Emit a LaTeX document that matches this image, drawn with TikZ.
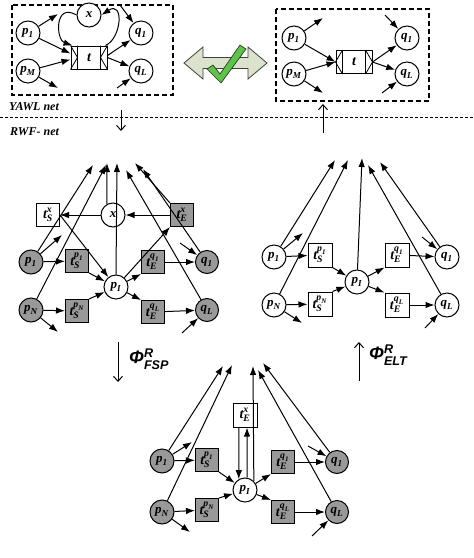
\documentclass[tikz,border=0pt]{standalone}
\usepackage{amsmath}
\usepackage{fontspec}
\setmainfont{Liberation Serif}
\newfontfamily\phifont{Liberation Sans}
\usetikzlibrary{arrows.meta}
\definecolor{pg}{gray}{0.6}
\definecolor{dblfill}{HTML}{DCE3CC}
\definecolor{chkgreen}{HTML}{5CC545}
\newcommand{\plfont}{\fontsize{13}{13}\selectfont\bfseries\itshape}
\newcommand{\trfont}{\fontsize{14}{14}\selectfont\bfseries\itshape}
\newcommand{\PL}[2]{$\textit{#1}_{\textit{#2}}$}
\newcommand{\TR}[3]{$\textit{#1}^{#2}_{\textit{#3}}$}
\begin{document}
\begin{tikzpicture}[x=1pt,y=-1pt,
  place/.style={circle,draw,line width=1pt,minimum size=24pt,inner sep=0pt,fill=white,font=\plfont},
  gplace/.style={place,fill=pg},
  trans/.style={rectangle,draw,line width=1pt,minimum size=23pt,inner sep=0pt,fill=white,font=\trfont},
  gtrans/.style={trans,fill=pg},
  ytask/.style={rectangle,draw,line width=1pt,minimum width=36pt,minimum height=23pt,inner sep=0pt,fill=white,font=\trfont},
  arr/.style={-{Latex[length=9pt,width=6.5pt]},line width=1pt},
  barb/.style={-{Straight Barb[length=5pt,width=9pt]},line width=1pt},
  dbox/.style={draw,line width=1.2pt,dash pattern=on 5pt off 3pt},
  lbl/.style={font=\fontsize{12}{12}\selectfont\bfseries\itshape,inner sep=0pt}]
\useasboundingbox (0,0) rectangle (474,558);

% ---------- top-left YAWL net ----------
\draw[dbox] (12,5) rectangle (173,95);
\node[place] (a1) at (28,33) {\PL{p}{1}};
\node[place] (aM) at (28,71) {\PL{p}{M}};
\node[place] (ax) at (89,15) {\textit{x}};
\node[ytask] (at) at (89,57.5) {\textit{t}};
\node[place] (aq1) at (141,33) {\PL{q}{1}};
\node[place] (aqL) at (141,71) {\PL{q}{L}};
\draw[line width=0.8pt] ([xshift=7pt]at.north west) -- ([xshift=7pt]at.south west)
  (at.north west) -- ([xshift=7pt]at.west) -- (at.south west)
  ([xshift=-7pt]at.north east) -- ([xshift=-7pt]at.south east)
  (at.north east) -- ([xshift=-7pt]at.east) -- (at.south east);
\coordinate (a1o) at (58,14);
\coordinate (aMo) at (58,88);
\coordinate (aq1i) at (120,5);
\coordinate (aqLi) at (117,88);
\draw[arr] (a1) -- (a1o);
\draw[arr] (aM) -- (aMo);
\draw[arr] (a1) -- ([yshift=4pt]at.west);
\draw[arr] (aM) -- ([yshift=-2pt]at.west);
\draw[arr] (ax.west) .. controls (54,2) and (56,40) .. ([xshift=2pt]at.north west);
\draw[arr] ([xshift=-2pt]at.north east) .. controls (122,38) and (124,0) .. (ax.east);
\draw[arr] ([yshift=2pt]at.east) -- (aq1);
\draw[arr] (at.east) -- (aqL);
\draw[arr] (aq1i) -- (aq1);
\draw[arr] (aqLi) -- (aqL);

% ---------- top-right YAWL net ----------
\draw[dbox] (276,9) rectangle (429,101);
\node[place] (b1) at (294,38) {\PL{p}{1}};
\node[place] (bM) at (294,74) {\PL{p}{M}};
\node[ytask] (bt) at (354,62) {\textit{t}};
\node[place] (bq1) at (407,38) {\PL{q}{1}};
\node[place] (bqL) at (407,74) {\PL{q}{L}};
\draw[line width=0.8pt] ([xshift=7pt]bt.north west) -- ([xshift=7pt]bt.south west)
  ([xshift=7pt]bt.north west) -- (bt.west) -- ([xshift=7pt]bt.south west)
  ([xshift=-7pt]bt.north east) -- ([xshift=-7pt]bt.south east)
  ([xshift=-7pt]bt.north east) -- (bt.east) -- ([xshift=-7pt]bt.south east);
\coordinate (b1o) at (323,18);
\coordinate (bMo) at (323,93);
\coordinate (bq1i) at (385,15);
\coordinate (bqLi) at (382,93);
\draw[arr] (b1) -- (b1o);
\draw[arr] (bM) -- (bMo);
\draw[arr] (b1) -- (bt.west);
\draw[arr] (bM) -- (bt.west);
\draw[arr] (bt.east) -- (bq1);
\draw[arr] (bt.east) -- (bqL);
\draw[arr] (bq1i) -- (bq1);
\draw[arr] (bqLi) -- (bqL);

% ---------- double arrow with check ----------
\draw[line width=0.8pt,draw=black!75,fill=dblfill] (184,63) -- (203,47) -- (203,57.5) -- (248,57.5) -- (248,47) -- (267,63) -- (248,79) -- (248,68.5) -- (203,68.5) -- (203,79) -- cycle;
\draw[line width=0.7pt,draw=black!80,fill=chkgreen] (207,69) -- (213,65) -- (220,74) -- (240,45) -- (246,49) -- (221,83) -- cycle;

% ---------- separator ----------
\node[lbl,anchor=west] (yawl) at (9,107) {YAWL net};
\node[lbl,anchor=west] (rwf) at (10,132) {RWF- net};
\coordinate (sepL) at (0,117);
\coordinate (sepR) at (474,117);
\draw[line width=1pt,dash pattern=on 3pt off 2pt] (sepL) -- (sepR);
\coordinate (dnA) at (121,110);
\coordinate (dnB) at (121,131);
\coordinate (upA) at (323,133);
\coordinate (upB) at (323,104);
\draw[barb] (dnA) -- (dnB);
\draw[barb] (upA) -- (upB);

% ---------- middle-left RWF-net ----------
\node[gplace] (c1) at (31,262) {\PL{p}{1}};
\node[gplace] (cN) at (31,310) {\PL{p}{N}};
\node[trans] (cSx) at (48,215) {\TR{t}{\textit{x}}{S}};
\node[place] (cx) at (113,215) {\textit{x}};
\node[gtrans] (cEx) at (182,215) {\TR{t}{\textit{x}}{E}};
\node[gtrans] (cS1) at (77,261) {\TR{t}{\textit{p}_{\textit{1}}}{S}};
\node[gtrans] (cSN) at (77,311) {\TR{t}{\textit{p}_{\textit{N}}}{S}};
\node[place] (cI) at (116,287) {\PL{p}{I}};
\node[gtrans] (cE1) at (153,262) {\TR{t}{\textit{q}_{\textit{1}}}{E}};
\node[gtrans] (cEL) at (153,312) {\TR{t}{\textit{q}_{\textit{L}}}{E}};
\node[gplace,minimum size=23pt] (cq1) at (207,262) {\PL{q}{1}};
\node[gplace,minimum size=23pt] (cqL) at (207,310) {\PL{q}{L}};
\coordinate (cu1) at (93,165);
\coordinate (cu2) at (106,165);
\coordinate (cu3) at (107,163);
\coordinate (cu4) at (117,163);
\coordinate (cu5) at (135,163);
\coordinate (cu6) at (143,169);
\coordinate (cu7) at (126,170);
\coordinate (c1o) at (62,235);
\coordinate (cNo) at (58,332);
\coordinate (cq1i) at (180,243);
\coordinate (cqLi) at (182,333);
\draw[arr] (c1) -- (cu1);
\draw[arr] (cN) -- (cu2);
\draw[arr] (cx.120) -- (cu3);
\draw[arr] (cI.north) -- (cu4);
\draw[arr] (cEx.north west) -- (cu5);
\draw[arr] (cq1) -- (cu6);
\draw[arr] (cqL) -- (cu7);
\draw[arr] (c1) -- (c1o);
\draw[arr] (cN) -- (cNo);
\draw[arr] (cx) -- (cSx);
\draw[arr] (cEx) -- (cx);
\draw[arr] (cSx.east) -- (cI);
\draw[arr] (cI) -- (cEx.south west);
\draw[arr] (c1) -- (cS1);
\draw[arr] (cN) -- (cSN);
\draw[arr] (cS1.south east) -- (cI);
\draw[arr] (cSN.north east) -- (cI);
\draw[arr] (cI) -- (cE1.south west);
\draw[arr] (cI) -- (cEL.north west);
\draw[arr] (cE1) -- (cq1);
\draw[arr] (cEL) -- (cqL);
\draw[arr] (cq1i) -- (cq1);
\draw[arr] (cqLi) -- (cqL);

% ---------- middle-right RWF-net ----------
\node[place] (d1) at (274,257) {\PL{p}{1}};
\node[place] (dN) at (274,305) {\PL{p}{N}};
\node[trans,minimum size=24pt] (dS1) at (320,255) {\TR{t}{\textit{p}_{\textit{1}}}{S}};
\node[trans,minimum size=24pt] (dSN) at (320,304) {\TR{t}{\textit{p}_{\textit{N}}}{S}};
\node[place] (dI) at (357,282) {\PL{p}{I}};
\node[trans,minimum size=24pt] (dE1) at (397,255) {\TR{t}{\textit{q}_{\textit{1}}}{E}};
\node[trans,minimum size=24pt] (dEL) at (397,305) {\TR{t}{\textit{q}_{\textit{L}}}{E}};
\node[place] (dq1) at (447,257) {\PL{q}{1}};
\node[place] (dqL) at (447,305) {\PL{q}{L}};
\coordinate (du1) at (335,160);
\coordinate (du2) at (348,160);
\coordinate (du3) at (362,158);
\coordinate (du4) at (368,165);
\coordinate (du5) at (380,162);
\coordinate (d1o) at (303,233);
\coordinate (dNo) at (302,323);
\coordinate (dq1i) at (422,237);
\coordinate (dqLi) at (425,328);
\draw[arr] (d1) -- (du1);
\draw[arr] (dN) -- (du2);
\draw[arr] (dI) -- (du3);
\draw[arr] (dqL) -- (du4);
\draw[arr] (dq1) -- (du5);
\draw[arr] (d1) -- (d1o);
\draw[arr] (dN) -- (dNo);
\draw[arr] (d1) -- (dS1);
\draw[arr] (dN) -- (dSN);
\draw[arr] (dS1.south east) -- (dI);
\draw[arr] (dSN.north east) -- (dI);
\draw[arr] (dI) -- (dE1.south west);
\draw[arr] (dI) -- (dEL.north west);
\draw[arr] (dE1) -- (dq1);
\draw[arr] (dEL) -- (dqL);
\draw[arr] (dq1i) -- (dq1);
\draw[arr] (dqLi) -- (dqL);

% ---------- Phi labels ----------
\coordinate (pa1) at (118,342);
\coordinate (pa2) at (118,382);
\coordinate (pb1) at (359,381);
\coordinate (pb2) at (359,342);
\draw[barb] (pa1) -- (pa2);
\draw[barb] (pb1) -- (pb2);
\node[anchor=west,inner sep=0pt,font={\fontsize{18}{18}\phifont\bfseries\itshape}] (phiF) at (129,359) {Φ$^{\textit{R}}_{\textit{FSP}}$};
\node[anchor=west,inner sep=0pt,font={\fontsize{18}{18}\phifont\bfseries\itshape}] (phiE) at (369,355) {Φ$^{\textit{R}}_{\textit{ELT}}$};

% ---------- bottom RWF-net ----------
\node[gplace] (f1) at (162,461) {\PL{p}{1}};
\node[gplace] (fN) at (162,512) {\PL{p}{N}};
\node[gtrans] (fS1) at (207,460) {\TR{t}{\textit{p}_{\textit{1}}}{S}};
\node[gtrans] (fSN) at (207,510) {\TR{t}{\textit{p}_{\textit{N}}}{S}};
\node[place] (fI) at (245,490) {\PL{p}{I}};
\node[trans,minimum size=24pt] (fEx) at (245,415) {\TR{t}{\textit{x}}{E}};
\node[gtrans] (fE1) at (283,462) {\TR{t}{\textit{q}_{\textit{1}}}{E}};
\node[gtrans] (fEL) at (283,512) {\TR{t}{\textit{q}_{\textit{L}}}{E}};
\node[gplace,minimum size=23pt] (fq1) at (337,462) {\PL{q}{1}};
\node[gplace,minimum size=23pt] (fqL) at (337,512) {\PL{q}{L}};
\coordinate (fu1) at (223,366);
\coordinate (fu2) at (232,365);
\coordinate (fu3) at (253,366);
\coordinate (fu4) at (258,370);
\coordinate (fu5) at (263,363);
\coordinate (f1o) at (192,442);
\coordinate (fNo) at (190,532);
\coordinate (fq1i) at (308,446);
\coordinate (fqLi) at (312,536);
\draw[arr] (f1) -- (fu1);
\draw[arr] (fN) -- (fu2);
\draw[arr] (fI.45) -- (fu3);
\draw[arr] (fqL) -- (fu4);
\draw[arr] (fq1) -- (fu5);
\draw[arr] (f1) -- (f1o);
\draw[arr] (fN) -- (fNo);
\draw[arr] ([xshift=-6pt]fEx.south) -- (fI.120);
\draw[arr] (fI.80) -- ([xshift=2pt]fEx.south);
\draw[arr] (f1) -- (fS1);
\draw[arr] (fN) -- (fSN);
\draw[arr] (fS1.south east) -- (fI);
\draw[arr] (fSN.north east) -- (fI);
\draw[arr] (fI) -- (fE1.south west);
\draw[arr] (fI) -- (fEL.north west);
\draw[arr] (fE1) -- (fq1);
\draw[arr] (fEL) -- (fqL);
\draw[arr] (fq1i) -- (fq1);
\draw[arr] (fqLi) -- (fqL);
\end{tikzpicture}
\end{document}
